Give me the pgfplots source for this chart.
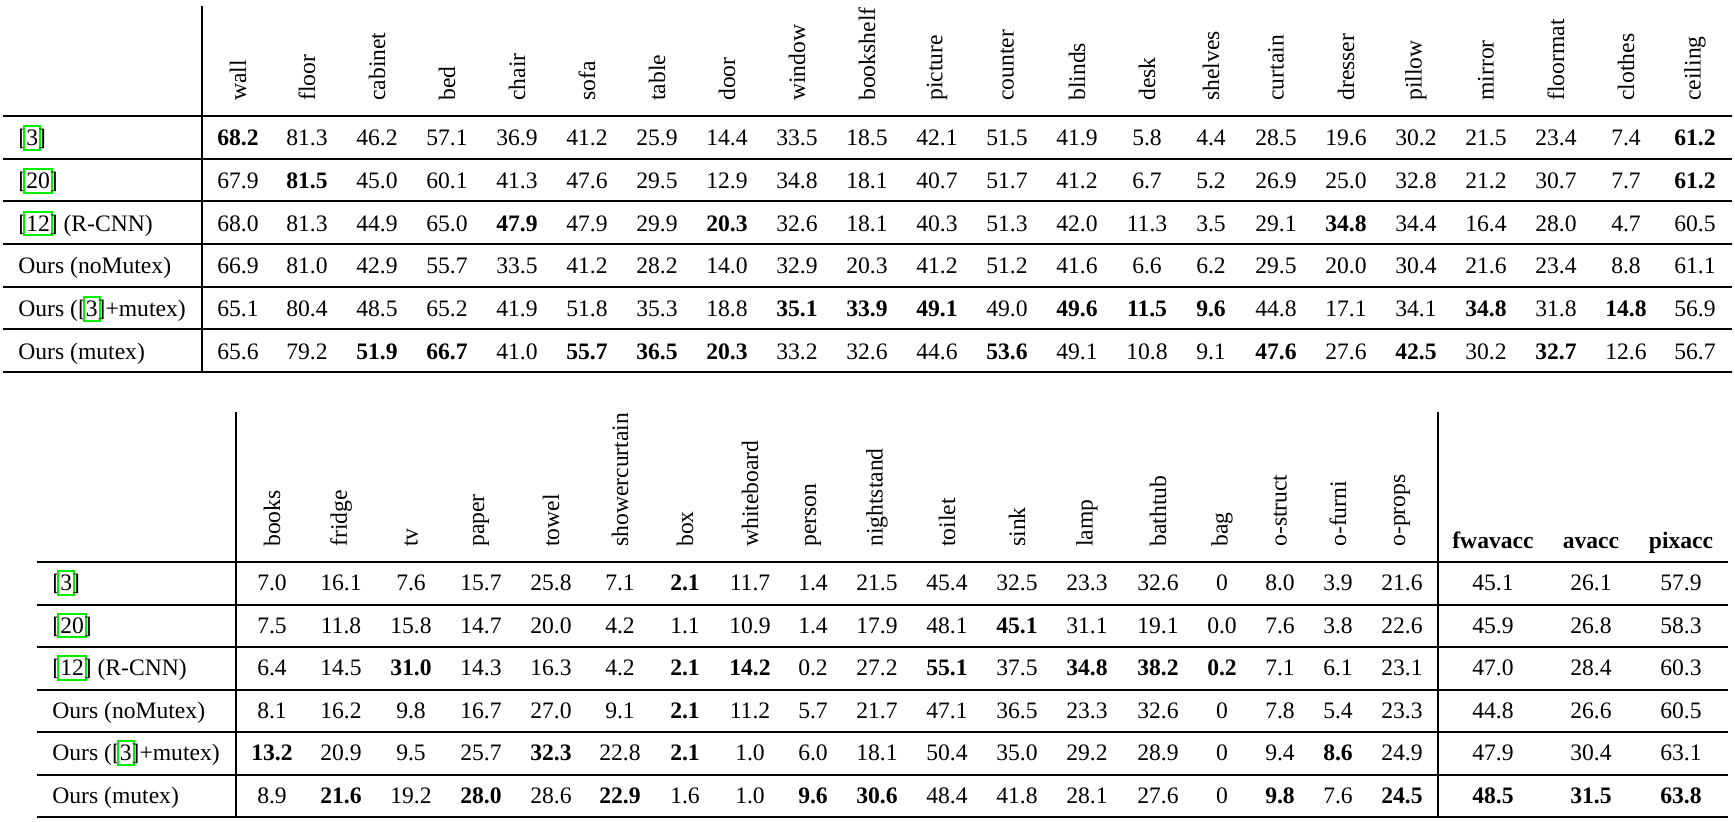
\documentclass[border=0pt]{standalone}
\usepackage{fontspec}
\setmainfont{Liberation Serif}
\usepackage{xcolor}
\usepackage{pgfplots}
\usepackage{pgfplotstable}
\pgfplotsset{compat=1.18}
\definecolor{citegreen}{RGB}{0,240,0}
\protected\def\B#1{{\bfseries #1}}
\newcommand\fs{\fontsize{11.8}{14}\selectfont}
\newcommand\gb[1]{\setbox0=\hbox{#1}\rlap{\kern-1.6pt\textcolor{citegreen}{\setlength\fboxsep{0pt}\setlength\fboxrule{1pt}\fbox{\rule[-1.6pt]{0pt}{10.8pt}\hspace*{\dimexpr\wd0+1.0pt\relax}}}}\box0}

\pgfplotstableread{
x hdr r1 r2 r3 r4 r5 r6
238 wall \B{68.2} 67.9 68.0 66.9 65.1 65.6
307 floor 81.3 \B{81.5} 81.3 81.0 80.4 79.2
377 cabinet 46.2 45.0 44.9 42.9 48.5 \B{51.9}
447 bed 57.1 60.1 65.0 55.7 65.2 \B{66.7}
517 chair 36.9 41.3 \B{47.9} 33.5 41.9 41.0
587 sofa 41.2 47.6 47.9 41.2 51.8 \B{55.7}
657 table 25.9 29.5 29.9 28.2 35.3 \B{36.5}
727 door 14.4 12.9 \B{20.3} 14.0 18.8 \B{20.3}
797 window 33.5 34.8 32.6 32.9 \B{35.1} 33.2
867 bookshelf 18.5 18.1 18.1 20.3 \B{33.9} 32.6
937 picture 42.1 40.7 40.3 41.2 \B{49.1} 44.6
1007 counter 51.5 51.7 51.3 51.2 49.0 \B{53.6}
1077 blinds 41.9 41.2 42.0 41.6 \B{49.6} 49.1
1147 desk 5.8 6.7 11.3 6.6 \B{11.5} 10.8
1211 shelves 4.4 5.2 3.5 6.2 \B{9.6} 9.1
1276 curtain 28.5 26.9 29.1 29.5 44.8 \B{47.6}
1346 dresser 19.6 25.0 \B{34.8} 20.0 17.1 27.6
1416 pillow 30.2 32.8 34.4 30.4 34.1 \B{42.5}
1486 mirror 21.5 21.2 16.4 21.6 \B{34.8} 30.2
1556 floormat 23.4 30.7 28.0 23.4 31.8 \B{32.7}
1626 clothes 7.4 7.7 4.7 8.8 \B{14.8} 12.6
1695 ceiling \B{61.2} \B{61.2} 60.5 61.1 56.9 56.7
}\toptab

\pgfplotstableread{
x hdr r1 r2 r3 r4 r5 r6
272 books 7.0 7.5 6.4 8.1 \B{13.2} 8.9
341 fridge 16.1 11.8 14.5 16.2 20.9 \B{21.6}
411 tv 7.6 15.8 \B{31.0} 9.8 9.5 19.2
481 paper 15.7 14.7 14.3 16.7 25.7 \B{28.0}
551 towel 25.8 20.0 16.3 27.0 \B{32.3} 28.6
620 showercurtain 7.1 4.2 4.2 9.1 22.8 \B{22.9}
685 box \B{2.1} 1.1 \B{2.1} \B{2.1} \B{2.1} 1.6
750 whiteboard 11.7 10.9 \B{14.2} 11.2 1.0 1.0
813 person 1.4 1.4 0.2 5.7 6.0 \B{9.6}
877 nightstand 21.5 17.9 27.2 21.7 18.1 \B{30.6}
947 toilet 45.4 48.1 \B{55.1} 47.1 50.4 48.4
1017 sink 32.5 \B{45.1} 37.5 36.5 35.0 41.8
1087 lamp 23.3 31.1 \B{34.8} 23.3 29.2 28.1
1158 bathtub 32.6 19.1 \B{38.2} 32.6 28.9 27.6
1222 bag 0 0.0 \B{0.2} 0 0 0
1280 o-struct 8.0 7.6 7.1 7.8 9.4 \B{9.8}
1338 o-furni 3.9 3.8 6.1 5.4 \B{8.6} 7.6
1402 o-props 21.6 22.6 23.1 23.3 24.9 \B{24.5}
}\bottab

\pgfplotstableread{
x hdr r1 r2 r3 r4 r5 r6
1493 \B{fwavacc} 45.1 45.9 47.0 44.8 47.9 \B{48.5}
1591 \B{avacc} 26.1 26.8 28.4 26.6 30.4 \B{31.5}
1681 \B{pixacc} 57.9 58.3 60.3 60.5 63.1 \B{63.8}
}\acctab

\begin{document}
\begin{tikzpicture}
\begin{axis}[
  scale only axis, width=867.5pt, height=410.5pt,
  xmin=0, xmax=1735, ymin=0, ymax=821, y dir=reverse,
  hide axis, clip=false,
  cell/.style={draw=none, mark=none, forget plot,
    nodes near coords={\pgfplotspointmeta},
    point meta=explicit symbolic,
    every node near coord/.append style={anchor=base, inner sep=0pt, text=black, font=\fs}},
  rothdr/.style={draw=none, mark=none, forget plot,
    nodes near coords={\pgfplotspointmeta},
    point meta=explicit symbolic,
    every node near coord/.append style={rotate=90, anchor=west, inner sep=0pt, text=black, font=\fs}},
  hrule/.style={black, line width=1pt, mark=none, forget plot},
  vrule/.style={black, line width=0.8pt, mark=none, forget plot},
]
\path (axis cs:0,0) rectangle (axis cs:1735,821);

% ---------- top table ----------
\addplot[rothdr] table[x=x, y expr=101, meta=hdr] {\toptab};
\addplot[cell] table[x=x, y expr=145.7, meta=r1] {\toptab};
\addplot[cell] table[x=x, y expr=188.4, meta=r2] {\toptab};
\addplot[cell] table[x=x, y expr=231.0, meta=r3] {\toptab};
\addplot[cell] table[x=x, y expr=273.7, meta=r4] {\toptab};
\addplot[cell] table[x=x, y expr=316.4, meta=r5] {\toptab};
\addplot[cell] table[x=x, y expr=359.0, meta=r6] {\toptab};

\addplot[hrule] coordinates {(3,116) (1732,116)};
\addplot[hrule] coordinates {(3,158.7) (1732,158.7)};
\addplot[hrule] coordinates {(3,201.3) (1732,201.3)};
\addplot[hrule] coordinates {(3,244) (1732,244)};
\addplot[hrule] coordinates {(3,286.7) (1732,286.7)};
\addplot[hrule] coordinates {(3,329.3) (1732,329.3)};
\addplot[hrule] coordinates {(3,372) (1732,372)};
\addplot[vrule] coordinates {(202,6) (202,372)};

\node[anchor=base west, inner sep=0pt, font=\fs] at (axis cs:18,145.7) {[\gb{3}]};
\node[anchor=base west, inner sep=0pt, font=\fs] at (axis cs:18,188.4) {[\gb{20}]};
\node[anchor=base west, inner sep=0pt, font=\fs] at (axis cs:18,231.0) {[\gb{12}] (R-CNN)};
\node[anchor=base west, inner sep=0pt, font=\fs] at (axis cs:18,273.7) {Ours (noMutex)};
\node[anchor=base west, inner sep=0pt, font=\fs] at (axis cs:18,316.4) {Ours ([\gb{3}]+mutex)};
\node[anchor=base west, inner sep=0pt, font=\fs] at (axis cs:18,359.0) {Ours (mutex)};

% ---------- bottom table ----------
\addplot[rothdr] table[x=x, y expr=547, meta=hdr] {\bottab};
\addplot[cell] table[x=x, y expr=548, meta=hdr] {\acctab};
\addplot[cell] table[x=x, y expr=590.5, meta=r1] {\bottab};
\addplot[cell] table[x=x, y expr=633.0, meta=r2] {\bottab};
\addplot[cell] table[x=x, y expr=675.5, meta=r3] {\bottab};
\addplot[cell] table[x=x, y expr=718.0, meta=r4] {\bottab};
\addplot[cell] table[x=x, y expr=760.5, meta=r5] {\bottab};
\addplot[cell] table[x=x, y expr=803.0, meta=r6] {\bottab};
\addplot[cell] table[x=x, y expr=590.5, meta=r1] {\acctab};
\addplot[cell] table[x=x, y expr=633.0, meta=r2] {\acctab};
\addplot[cell] table[x=x, y expr=675.5, meta=r3] {\acctab};
\addplot[cell] table[x=x, y expr=718.0, meta=r4] {\acctab};
\addplot[cell] table[x=x, y expr=760.5, meta=r5] {\acctab};
\addplot[cell] table[x=x, y expr=803.0, meta=r6] {\acctab};

\addplot[hrule] coordinates {(37,562) (1728,562)};
\addplot[hrule] coordinates {(37,604.5) (1728,604.5)};
\addplot[hrule] coordinates {(37,647) (1728,647)};
\addplot[hrule] coordinates {(37,689.5) (1728,689.5)};
\addplot[hrule] coordinates {(37,732) (1728,732)};
\addplot[hrule] coordinates {(37,774.5) (1728,774.5)};
\addplot[hrule] coordinates {(37,817) (1728,817)};
\addplot[vrule] coordinates {(236,412) (236,817)};
\addplot[vrule] coordinates {(1438,412) (1438,817)};

\node[anchor=base west, inner sep=0pt, font=\fs] at (axis cs:52,590.5) {[\gb{3}]};
\node[anchor=base west, inner sep=0pt, font=\fs] at (axis cs:52,633.0) {[\gb{20}]};
\node[anchor=base west, inner sep=0pt, font=\fs] at (axis cs:52,675.5) {[\gb{12}] (R-CNN)};
\node[anchor=base west, inner sep=0pt, font=\fs] at (axis cs:52,718.0) {Ours (noMutex)};
\node[anchor=base west, inner sep=0pt, font=\fs] at (axis cs:52,760.5) {Ours ([\gb{3}]+mutex)};
\node[anchor=base west, inner sep=0pt, font=\fs] at (axis cs:52,803.0) {Ours (mutex)};
\end{axis}
\end{tikzpicture}
\end{document}
